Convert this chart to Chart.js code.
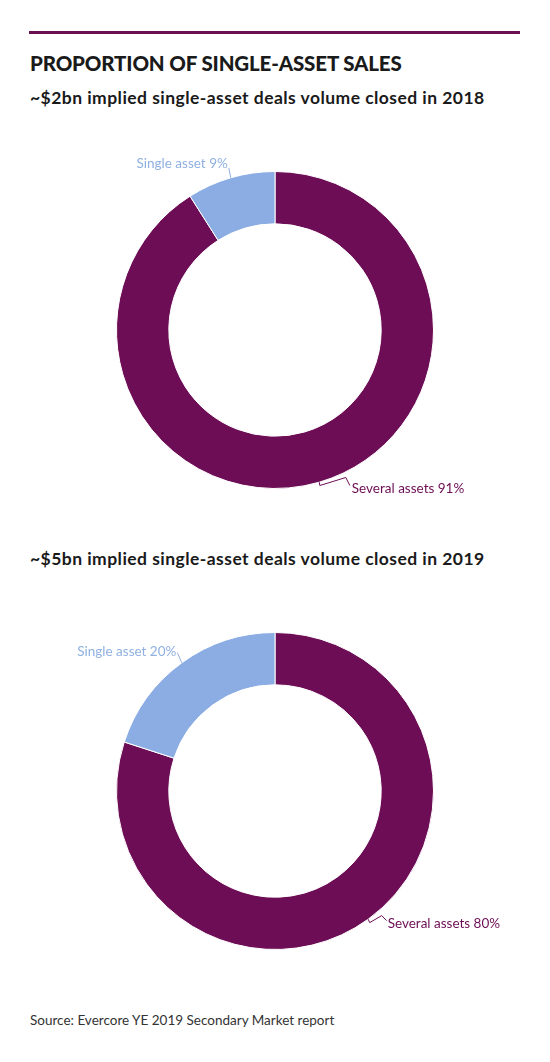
<!DOCTYPE html>
<html>
<head>
<meta charset="utf-8">
<script src="https://cdn.jsdelivr.net/npm/chart.js@4"></script>
<style>
  body { margin: 0; width: 550px; height: 1062px; background: #fff; position: relative; font-family: Lato, "Open Sans", sans-serif; color: #1a1a1a; overflow: hidden; }
  .rule { position: absolute; left: 29px; top: 31px; width: 491px; height: 3px; background: #6a0f52; }
  .title { position: absolute; left: 30px; top: 51px; font-size: 20.5px; font-weight: 900; letter-spacing: -0.15px; }
  .sub { position: absolute; left: 30px; font-size: 17.5px; font-weight: 700; letter-spacing: 0.45px; }
  .src { position: absolute; left: 30px; top: 1012px; font-size: 13.5px; color: #333; }
  canvas { position: absolute; left: 0; }
</style>
</head>
<body>
<div class="rule"></div>
<div class="title">PROPORTION OF SINGLE-ASSET SALES</div>
<div class="sub" style="top:87px">~$2bn implied single-asset deals volume closed in 2018</div>
<canvas id="c2018" width="550" height="400" style="top:130px"></canvas>
<div class="sub" style="top:548px">~$5bn implied single-asset deals volume closed in 2019</div>
<canvas id="c2019" width="550" height="400" style="top:591px"></canvas>
<div class="src">Source: Evercore YE 2019 Secondary Market report</div>
<script>
// données
const labels = ['Several assets', 'Single asset'];
const values2018 = [91, 9];
const values2019 = [80, 20];
const colors = ['#6c0d55', '#8badE3'];
const textColors = ['#6c0d55', '#8fb0e0'];

// étiquettes avec ligne de rappel
const sliceLabels = {
  id: 'sliceLabels',
  afterDraw(chart, args, opts) {
    const ctx = chart.ctx;
    const meta = chart.getDatasetMeta(0);
    const vals = chart.data.datasets[0].data;
    ctx.save();
    ctx.font = '13.5px Lato, "Open Sans", sans-serif';
    ctx.textBaseline = 'middle';
    ctx.lineWidth = 1;
    meta.data.forEach((arc, i) => {
      const mid = (arc.startAngle + arc.endAngle) / 2;
      const ox = arc.x + Math.cos(mid) * arc.outerRadius;
      const oy = arc.y + Math.sin(mid) * arc.outerRadius;
      const lead = opts.leaders[i];
      ctx.strokeStyle = textColors[i];
      ctx.beginPath();
      ctx.moveTo(ox, oy);
      lead.pts.forEach(p => ctx.lineTo(ox + p[0], oy + p[1]));
      ctx.stroke();
      ctx.fillStyle = textColors[i];
      ctx.textAlign = lead.align;
      ctx.fillText(chart.data.labels[i] + ' ' + vals[i] + '%', ox + lead.text[0], oy + lead.text[1]);
    });
    ctx.restore();
  }
};

function drawDonut(id, values, leaders) {
  return new Chart(document.getElementById(id), {
    type: 'doughnut',
    data: {
      labels: labels,
      datasets: [{ data: values, backgroundColor: colors, borderColor: '#fff', borderWidth: 1 }]
    },
    options: {
      responsive: false,
      animation: false,
      devicePixelRatio: 1,
      cutout: '67%',
      layout: { padding: { top: 41, bottom: 41 } },
      plugins: {
        legend: { display: false },
        tooltip: { enabled: false },
        sliceLabels: { leaders: leaders }
      }
    },
    plugins: [sliceLabels]
  });
}

drawDonut('c2018', values2018, [
  { pts: [[0.6, 3.3], [26.6, -4.7], [30.6, 3.3]], text: [32.6, 6.3], align: 'left' },
  { pts: [[-2, -10]], text: [-3, -14], align: 'right' }
]);
drawDonut('c2019', values2019, [
  { pts: [[1.5, 3.4], [13.5, -3.6], [18.5, 1.4]], text: [19.5, 4.4], align: 'left' },
  { pts: [[-4.5, -10]], text: [-5.5, -11.4], align: 'right' }
]);
</script>
</body>
</html>
